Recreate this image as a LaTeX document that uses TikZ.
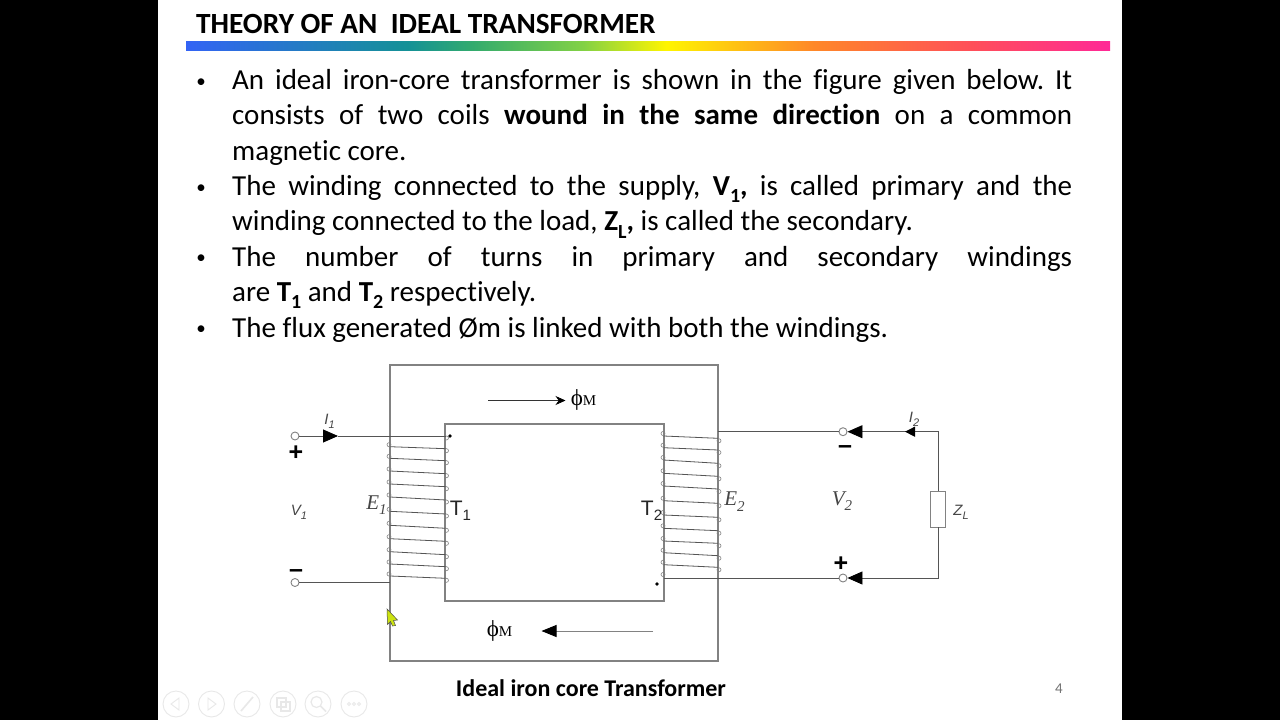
\documentclass[tikz,border=0pt]{standalone}
\usepackage{fontspec}
\setmainfont{Carlito}[Ligatures=NoCommon]
\newfontfamily\arialfont{Liberation Sans}
\newfontfamily\timesfont{Liberation Serif}
\usetikzlibrary{positioning, arrows.meta, shapes.geometric}
\definecolor{coreGray}{RGB}{130,130,130}
\definecolor{wireGray}{RGB}{85,85,85}
\definecolor{labelGray}{RGB}{70,70,70}
\definecolor{iconGray}{RGB}{232,232,232}
\pgfdeclarehorizontalshading{rainbowbar}{100bp}{
  rgb(0bp)=(0.2,0.39,0.96);
  rgb(25bp)=(0.2,0.39,0.96);
  rgb(37bp)=(0.08,0.57,0.59);
  rgb(40.5bp)=(0.2,0.67,0.43);
  rgb(46.5bp)=(0.51,0.82,0.27);
  rgb(51bp)=(1,0.96,0);
  rgb(59bp)=(1,0.53,0.16);
  rgb(67.5bp)=(1,0.31,0.35);
  rgb(75bp)=(1,0.16,0.59);
  rgb(100bp)=(1,0.16,0.59)}
\newcommand{\bodysub}[1]{\smash{\raisebox{-0.25em}{\fontsize{20}{20}\selectfont #1}}}
\newcommand{\labelsub}[2]{\raisebox{-0.25em}{\fontsize{#1}{#1}\selectfont #2}}
\newcommand{\fluxlabel}{{\timesfont\fontsize{23}{23}\selectfont ϕ\fontsize{15}{15}\selectfont M}}
\tikzstyle{para} = [rectangle, anchor=north west, inner sep=0pt, text width=840pt, align=justify, font=\frenchspacing\fontsize{29}{35.15}\selectfont]
\tikzstyle{bulletdot} = [inner sep=0pt, anchor=north, font=\fontsize{19}{35.15}\selectfont]
\tikzstyle{coreBox} = [rectangle, draw=coreGray, line width=1.1pt, inner sep=0pt]
\tikzstyle{terminal} = [circle, draw=coreGray, fill=white, line width=0.9pt, minimum size=8pt, inner sep=0pt]
\tikzstyle{wire} = [draw=wireGray, line width=0.9pt]
\tikzstyle{turn} = [draw=wireGray, line width=0.8pt]
\tikzstyle{bump} = [draw=coreGray, line width=0.6pt]
\tikzstyle{bigarrow} = [wire, -{Triangle[length=15pt,width=13pt,color=black,fill=black]}]
\tikzstyle{smallarrow} = [wire, -{Triangle[length=10pt,width=10pt,color=black,fill=black]}]
\tikzstyle{sign} = [inner sep=0pt, font=\arialfont\bfseries\fontsize{25}{25}\selectfont]
\tikzstyle{sanslabel} = [inner sep=0pt, text=labelGray, font=\arialfont\itshape\fontsize{15}{15}\selectfont]
\tikzstyle{seriflabel} = [inner sep=0pt, text=labelGray, font=\timesfont\itshape\fontsize{21}{21}\selectfont]
\tikzstyle{turnlabel} = [inner sep=0pt, text=black!85, font=\arialfont\fontsize{21}{21}\selectfont]
\tikzstyle{iconring} = [circle, draw=iconGray, line width=0.9pt, minimum size=26pt, inner sep=0pt]
\begin{document}
\begin{tikzpicture}[x=1pt, y=-1pt]
 \useasboundingbox (0,0) rectangle (1280,720);
 \fill [black] (0,0) rectangle (1280,720);
 \fill [white] (158,0) rectangle (1122,720);

 % heading
 \node (title) [anchor=base west, inner sep=0pt, font=\bfseries\fontsize{29.3}{29.3}\selectfont] at (196,34) {THEORY OF AN\ \ IDEAL TRANSFORMER};
 \shade [shading=rainbowbar] (186,41) rectangle (1110,50.5);

 % bullet text
 \node (para1) [para] at (232,65) {\strut An ideal iron-core transformer is shown in the figure given below. It\linebreak consists of two coils \textbf{wound in the same direction} on a common\linebreak magnetic core.\strut};
 \node (para2) [para, below=0pt of para1] {\strut The winding connected to the supply, \textbf{V\bodysub{1},} is called primary and the\linebreak winding connected to the load, \textbf{Z\bodysub{L},} is called the secondary.\strut};
 \node (para3) [para, below=0pt of para2] {\strut The number of turns in primary and secondary windings\linebreak are \textbf{T\bodysub{1}} and \textbf{T\bodysub{2}} respectively.\strut};
 \node (para4) [para, below=0pt of para3] {\strut The flux generated Øm is linked with both the windings.\strut};
 \foreach \n in {1,2,3,4}
  \node (dot\n) [bulletdot, left=26pt of para\n.north west, anchor=north east] {\strut\raisebox{2.5pt}{•}};

 % core
 \node (outer) [coreBox, minimum width=328pt, minimum height=296pt] at (554,513) {};
 \node (inner) [coreBox, minimum width=219pt, minimum height=177pt] at (554.5,512.5) {};

 % primary coil
 \foreach \yl/\yr in {446.7/448.7, 458.3/460.7, 471/473.7, 484/486.7, 497/500, 511.3/514, 525.3/528.3, 538.7/541.3, 551.7/554.7, 564/566.7, 576/578.3} {
  \draw [turn] (390,\yl) -- (446,\yr);
  \draw [bump] (389,\yl-2) circle (2);
  \draw [bump] (446.5,\yr+2) circle (2);
 }
 \draw [bump] (446.5,438) circle (2);

 % secondary coil
 \foreach \yl/\yr in {436/438.3, 447.7/450, 460/463.3, 473.3/476.3, 486/489, 500.7/503.3, 515/517.3, 528.3/530.7, 541/543.3, 552.7/555.7, 564.7/567.3} {
  \draw [turn] (663.5,\yl) -- (718,\yr);
  \draw [bump] (663,\yl-2.5) circle (2);
  \draw [bump] (719,\yr+2.5) circle (2);
 }
 \draw [bump] (663,574.5) circle (2);

 % terminals and load
 \node (plusIn) [terminal] at (295,436) {};
 \node (minusIn) [terminal] at (295,582.5) {};
 \node (minusOut) [terminal] at (843,431.7) {};
 \node (plusOut) [terminal] at (843,578) {};
 \node (load) [rectangle, draw=coreGray, fill=white, line width=0.9pt, minimum width=15pt, minimum height=36pt, inner sep=0pt] at (938,509) {};
 \coordinate (iOneTip) at (338,436);
 \coordinate (priTop) at (446,436);
 \coordinate (priBottom) at (390,582.5);
 \coordinate (secTop) at (718,431.7);
 \coordinate (secBottom) at (663.5,578);
 \coordinate (iTwoTail) at (916,431.7);
 \coordinate (iTwoTip) at (905,431.7);

 \draw [bigarrow] (plusIn) -- (iOneTip);
 \draw [wire] (iOneTip) -- (priTop);
 \draw [wire] (minusIn) -- (priBottom);
 \draw [wire] (secTop) -- (minusOut);
 \draw [wire] (secBottom) -- (plusOut);
 \draw [bigarrow] (load.north) |- (minusOut);
 \draw [bigarrow] (load.south) |- (plusOut);
 \draw [smallarrow] (iTwoTail) -- (iTwoTip);

 % flux arrows
 \coordinate (fluxTopTail) at (488,400.5);
 \coordinate (fluxTopTip) at (565.5,400.5);
 \coordinate (fluxLowTail) at (653,631);
 \coordinate (fluxLowTip) at (541.5,631);
 \draw [draw=black!80, line width=0.7pt, -{Stealth[length=10pt,width=9pt,color=black]}] (fluxTopTail) -- (fluxTopTip);
 \draw [draw=coreGray, line width=0.9pt, -{Triangle[length=15pt,width=12pt,color=black,fill=black]}] (fluxLowTail) -- (fluxLowTip);
 \node (phiTop) [inner sep=0pt] at (583.5,399.5) {\fluxlabel};
 \node (phiLow) [inner sep=0pt] at (499.5,631) {\fluxlabel};

 % labels
 \node (signA) [sign] at (296,453.5) {+};
 \node (signB) [sign] at (296,574) {–};
 \node (signC) [sign] at (845,449.5) {–};
 \node (signD) [sign] at (841,564) {+};
 \node (iOne) [sanslabel] at (329.5,421) {I\labelsub{11}{1}};
 \node (vOne) [sanslabel] at (299,512.5) {V\labelsub{11}{1}};
 \node (iTwo) [sanslabel] at (914,419.5) {I\labelsub{11}{2}};
 \node (zLoad) [sanslabel] at (961,512) {Z\labelsub{11}{L}};
 \node (eOne) [seriflabel] at (376.5,505) {E\labelsub{15}{1}};
 \node (eTwo) [seriflabel] at (734.5,501.5) {E\labelsub{15}{2}};
 \node (vTwo) [seriflabel] at (842,501) {V\labelsub{15}{2}};
 \node (tOne) [turnlabel] at (460.5,510.5) {T\labelsub{15}{1}};
 \node (tTwo) [turnlabel] at (651.5,510.5) {T\labelsub{15}{2}};
 \fill [black] (450,436) circle (1.8);
 \fill [black] (657,584) circle (1.8);

 % caption and page number
 \node (caption) [inner sep=0pt, font=\bfseries\fontsize{24}{24}\selectfont] at (591,688) {Ideal iron core Transformer};
 \node (pageno) [inner sep=0pt, text=black!55, font=\fontsize{15}{15}\selectfont] at (1059,688.5) {4};

 % cursor
 \fill [fill=yellow!80!green, draw=black!70, line width=0.5pt] (387,609) -- (397.5,620) -- (393.5,620.5) -- (395.5,625.5) -- (392.5,626) -- (390.5,621.5) -- (387.5,624.5) -- cycle;

 % slide show buttons
 \foreach \x/\name in {176/back, 211.5/next, 247/pen, 283/grid, 318/zoom, 354/more}
  \node (\name) [iconring] at (\x,704) {};
 \draw [iconGray, line width=0.9pt] (179,698) -- (171,704) -- (179,710) -- cycle;
 \draw [iconGray, line width=0.9pt] (208,698) -- (216,704) -- (208,710) -- cycle;
 \draw [iconGray, line width=1.6pt] (241,711) -- (253,697);
 \draw [iconGray, line width=1.2pt] (277,698) rectangle (286,707);
 \draw [iconGray, line width=1.2pt] (281,702) rectangle (290,711);
 \draw [iconGray, line width=1.2pt] (316.5,702) circle (5.5);
 \draw [iconGray, line width=1.6pt] (320.5,706) -- (326,711.5);
 \foreach \x in {349,354,359}
  \draw [iconGray, line width=0.8pt] (\x,704) circle (1.5);
\end{tikzpicture}
\end{document}
